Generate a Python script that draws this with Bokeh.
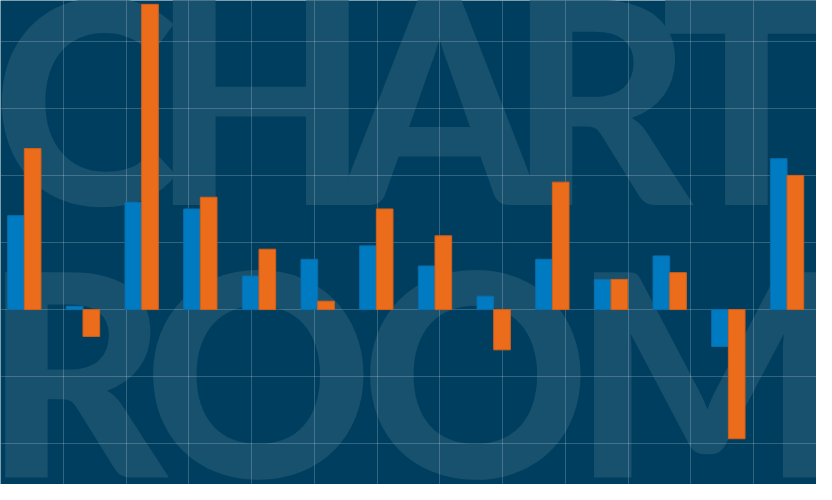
from bokeh.plotting import figure
from bokeh.models import Range1d, FixedTicker, Grid, Label, ColumnDataSource
from bokeh.transform import dodge
from bokeh.embed import file_html
from bokeh.resources import INLINE

# ---- data ----
groups = list(range(14))
series_a = [2.8, 0.1, 3.2, 3.0, 1.0, 1.5, 1.9, 1.3, 0.4, 1.5, 0.9, 1.6, -1.1, 4.5]
series_b = [4.8, -0.8, 9.1, 3.35, 1.8, 0.25, 3.0, 2.2, -1.2, 3.8, 0.9, 1.1, -3.85, 4.0]
y_ticks = [-4, -2, 0, 2, 4, 6, 8]
col_ticks = list(range(1, 13))
bg_words = ["CHART", "ROOM"]

W, H = 816, 484
BG = "#003e5f"
BLUE = "#007bc2"
ORANGE = "#eb6c1b"
LETTER = "#17516e"
FONT = "'Lato Heavy', 'Lato Black', Lato"

p = figure(width=W, height=H, output_backend="svg", toolbar_location=None,
           x_range=Range1d(-0.406, 13.502), y_range=Range1d(-5.215, 9.215),
           min_border=0, min_border_left=0, min_border_right=0,
           min_border_top=0, min_border_bottom=0)
p.xaxis.visible = False
p.yaxis.visible = False
p.grid.visible = False
p.outline_line_color = None
p.background_fill_color = BG
p.border_fill_color = BG

# background lettering (decorative), one letter at a time for spacing
fs = H * 0.584
shift = 0.38 * fs
letter_layout = [
    (bg_words[0], [0.104, 0.319, 0.538, 0.735, 0.914], H * 0.582),
    (bg_words[1], [0.092, 0.316, 0.582, 0.866], H * 0.0186),
]
for word, xfracs, yb in letter_layout:
    for ch, xf in zip(word, xfracs):
        p.add_layout(Label(x=xf * W, y=yb + shift, x_units="screen", y_units="screen",
                           text=ch, text_font=FONT, text_font_style="bold",
                           text_font_size=f"{fs:.0f}px", text_color=LETTER,
                           text_baseline="alphabetic", text_align="center", level="image"))

# grids
p.extra_x_ranges = {"cols": Range1d(0, 13)}
p.add_layout(Grid(dimension=1, ticker=FixedTicker(ticks=y_ticks),
                  grid_line_color="#ffffff", grid_line_alpha=0.2, grid_line_width=1))
p.add_layout(Grid(dimension=0, ticker=FixedTicker(ticks=col_ticks), x_range_name="cols",
                  grid_line_color="#ffffff", grid_line_alpha=0.2, grid_line_width=1))

src = ColumnDataSource(dict(g=groups, a=series_a, b=series_b))
bw = 0.284
p.vbar(x=dodge("g", -bw / 2, range=p.x_range), top="a", bottom=0, width=bw, source=src,
       fill_color=BLUE, line_color="#0a6dab", line_width=1)
p.vbar(x=dodge("g", bw / 2, range=p.x_range), top="b", bottom=0, width=bw, source=src,
       fill_color=ORANGE, line_color="#d45f18", line_width=1)

open("out.html", "w").write(file_html(p, INLINE))
